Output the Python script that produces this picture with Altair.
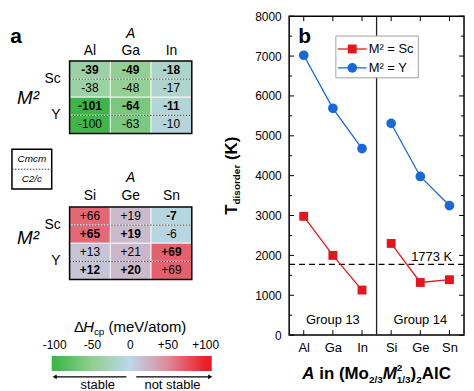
import json
import altair as alt
import pandas as pd

FONT = "Liberation Sans"
RED = "#e3161e"
BLUE = "#1a68d6"

# ---------------- panel (a) data ----------------
M2_names = ["Sc", "Y"]
structures = ["Cmcm", "C2/c"]
A_top = ["Al", "Ga", "In"]
top_cmcm = [[-39, -49, -18], [-101, -64, -11]]
top_c2c = [[-38, -48, -17], [-100, -63, -10]]
top_bold_cmcm = [[True, True, True], [True, True, True]]
top_bold_c2c = [[False, False, False], [False, False, False]]
A_bot = ["Si", "Ge", "Sn"]
bot_cmcm = [[66, 19, -7], [13, 21, 69]]
bot_c2c = [[65, 19, -6], [12, 20, 69]]
bot_bold_cmcm = [[False, False, True], [False, False, True]]
bot_bold_c2c = [[True, True, False], [True, True, False]]

cbar_values = [-100, -50, 0, 50, 100]
cbar_colors = ["#3fb54a", "#92cf90", "#bcd7ec", "#df8a99", "#ee1c25"]
cbar_extent = [-104, 108]
arrow_labels = ["stable", "not stable"]

# ---------------- panel (b) data ----------------
A_all = ["Al", "Ga", "In", "Si", "Ge", "Sn"]
A_group = ["Group 13", "Group 13", "Group 13", "Group 14", "Group 14", "Group 14"]
T_Sc = [2980, 2000, 1130, 2300, 1320, 1390]
T_Y = [7020, 5690, 4680, 5310, 3980, 3250]
T_processing = 1773
y_major = [0, 1000, 2000, 3000, 4000, 5000, 6000, 7000, 8000]
y_minor = [500, 1500, 2500, 3500, 4500, 5500, 6500, 7500]

# ---------------- helpers ----------------
ADV_REG = {" ": 278, "(": 333, ")": 333, "/": 278, "A": 667, "C": 722, "H": 722,
           "K": 667, "M": 833, "T": 611, "a": 556, "c": 500, "d": 556, "e": 556,
           "i": 222, "l": 222, "m": 833, "n": 556, "o": 556, "p": 556, "r": 333,
           "s": 500, "t": 278, "V": 667, "\u0394": 612}
ADV_BOLD = {" ": 278, "(": 333, ")": 333, "/": 278, "A": 722, "C": 722, "K": 722,
            "M": 833, "T": 611, "a": 556, "d": 611, "e": 556, "i": 278, "l": 278,
            "n": 611, "o": 611, "r": 389, "s": 556}


def adv(s, size, bold=False):
    tbl = ADV_BOLD if bold else ADV_REG
    return sum(tbl.get(ch, 556) for ch in s) * size / 1000.0


def piece(text, x, y, size, weight="normal", style="normal", angle=0, color="black"):
    return alt.Chart(pd.DataFrame({"t": [text]})).mark_text(
        fontSize=size, fontWeight=weight, fontStyle=style, align="left",
        baseline="alphabetic", angle=angle, color=color
    ).encode(x=alt.value(x), y=alt.value(y), text="t:N")


def lead_space(t, size, bold=False):
    """SVG drops leading blanks: return (stripped text, width of the dropped blanks)."""
    s = t.lstrip(" ")
    return s, adv(t[: len(t) - len(s)], size, bold)


def pos_scale(px0, px1, v0, v1, size, reverse=False):
    """Linear scale whose default range (0..size) puts v0 at px0 and v1 at px1."""
    k = (px1 - px0) / float(v1 - v0)
    d0 = v0 - px0 / k
    d1 = d0 + size / k
    if reverse:
        return alt.Scale(domain=[d0, d1], nice=False, zero=False, reverse=True)
    return alt.Scale(domain=[d0, d1], nice=False, zero=False)


heat_scale = alt.Scale(domain=cbar_values, range=cbar_colors, interpolate="rgb")
STRIP_W = 201


def heat_strip(A_names, cm, c2, b_cm, b_c2, height, top_px, col_y, title_y, m2_y, panel=None):
    rows = []
    for m, mn in enumerate(M2_names):
        for c, a in enumerate(A_names):
            for s, (vals, bol) in enumerate(((cm, b_cm), (c2, b_c2))):
                v = vals[m][c]
                rows.append({"M2": mn, "A": a, "structure": structures[s], "dH": v,
                             "label": ("+%d" % v) if v > 0 else ("%d" % v),
                             "bold": bol[m][c], "c0": c, "c1": c + 1, "cc": c + 0.5,
                             "r0": 2 * m + s, "r1": 2 * m + s + 1, "rc": 2 * m + s + 0.5})
    cells = pd.DataFrame(rows)
    ncol = len(A_names)
    nrow = 2 * len(M2_names)
    xs = pos_scale(58, 181, 0, ncol, STRIP_W)
    ys = pos_scale(top_px, top_px + 18.25 * nrow, 0, nrow, height, reverse=True)

    def X(f):
        return alt.X(f, scale=xs, axis=None)

    def Y(f):
        return alt.Y(f, scale=ys, axis=None)

    base = alt.Chart(cells)
    rect = base.mark_rect(stroke="white", strokeWidth=0.8).encode(
        x=X("c0:Q"), x2="c1:Q", y=Y("r0:Q"), y2="r1:Q",
        color=alt.Color("dH:Q", scale=heat_scale, legend=None))
    txt_b = base.transform_filter("datum.bold").mark_text(
        fontSize=12, fontWeight="bold", color="black").encode(
        x=X("cc:Q"), y=Y("rc:Q"), text="label:N")
    txt_n = base.transform_filter("!datum.bold").mark_text(
        fontSize=12, color="black").encode(
        x=X("cc:Q"), y=Y("rc:Q"), text="label:N")
    seps = pd.DataFrame({"r": [2 * m + 1 for m in range(len(M2_names))],
                         "c0": [0] * len(M2_names), "c1": [ncol] * len(M2_names)})
    dots = alt.Chart(seps).mark_rule(strokeDash=[1.5, 1.5], color="#333", strokeWidth=1).encode(
        x=X("c0:Q"), x2="c1:Q", y=Y("r:Q"))
    frame = alt.Chart(pd.DataFrame({"c0": [0], "c1": [ncol], "r0": [0], "r1": [nrow]})).mark_rect(
        fillOpacity=0, stroke="black", strokeWidth=1.5).encode(
        x=X("c0:Q"), x2="c1:Q", y=Y("r0:Q"), y2="r1:Q")
    cols = pd.DataFrame({"A": A_names, "cc": [c + 0.5 for c in range(ncol)], "r": [col_y] * ncol})
    col_txt = alt.Chart(cols).mark_text(fontSize=14, color="black").encode(
        x=X("cc:Q"), y=Y("r:Q"), text="A:N")
    a_title = alt.Chart(pd.DataFrame({"t": ["A"], "cc": [ncol / 2], "r": [title_y]})).mark_text(
        fontSize=14, fontStyle="italic", color="black").encode(x=X("cc:Q"), y=Y("r:Q"), text="t:N")
    rlab = pd.DataFrame({"M2": M2_names, "r": [2 * m + 1 for m in range(len(M2_names))],
                         "c": [-0.22] * len(M2_names)})
    row_txt = alt.Chart(rlab).mark_text(fontSize=14, align="right", color="black").encode(
        x=X("c:Q"), y=Y("r:Q"), text="M2:N")
    m2 = alt.Chart(pd.DataFrame({"t": ["M\u00b2"], "c": [-1.29], "r": [m2_y]})).mark_text(
        fontSize=19, fontStyle="italic", align="left", baseline="alphabetic", color="black").encode(
        x=X("c:Q"), y=Y("r:Q"), text="t:N")
    layers = [rect, dots, frame, txt_b, txt_n, col_txt, a_title, row_txt, m2]
    if panel is not None:
        layers.append(alt.Chart(pd.DataFrame({"t": [panel], "c": [-1.46], "r": [-1.0]})).mark_text(
            fontSize=21, fontWeight="bold", align="left", baseline="alphabetic", color="black").encode(
            x=X("c:Q"), y=Y("r:Q"), text="t:N"))
    return alt.layer(*layers).properties(width=STRIP_W, height=height)


strip1 = heat_strip(A_top, top_cmcm, top_c2c, top_bold_cmcm, top_bold_c2c, 117, 45,
                    -0.55, -1.5, 2.39, panel="a")

# structure key box
bx = pos_scale(0, 40, 0, 1, STRIP_W)
by = pos_scale(17, 57, 0, len(structures), 75, reverse=True)
box = alt.Chart(pd.DataFrame({"c0": [0], "c1": [1], "r0": [0], "r1": [len(structures)]})).mark_rect(
    fillOpacity=0, stroke="black", strokeWidth=1.5).encode(
    x=alt.X("c0:Q", scale=bx, axis=None), x2="c1:Q",
    y=alt.Y("r0:Q", scale=by, axis=None), y2="r1:Q")
box_dot = alt.Chart(pd.DataFrame({"c0": [0], "c1": [1], "r": [1]})).mark_rule(
    strokeDash=[1.5, 1.5], color="#333", strokeWidth=1).encode(
    x=alt.X("c0:Q", scale=bx, axis=None), x2="c1:Q", y=alt.Y("r:Q", scale=by, axis=None))
box_txt = alt.Chart(pd.DataFrame({"s": structures, "c": [0.5, 0.5], "r": [0.5, 1.5]})).mark_text(
    fontSize=10, fontStyle="italic", color="black").encode(
    x=alt.X("c:Q", scale=bx, axis=None), y=alt.Y("r:Q", scale=by, axis=None), text="s:N")
strip2 = alt.layer(box, box_dot, box_txt).properties(width=STRIP_W, height=75)

# strip height chosen so the colour bar and its captions stay inside the page
strip3 = heat_strip(A_bot, bot_cmcm, bot_c2c, bot_bold_cmcm, bot_bold_c2c, 150, 0,
                    -0.59, -1.57, 2.05)

# colour bar (vertical placement in pixels inside its strip)
cs = pos_scale(43, 195, -100, 100, STRIP_W)
CB_H = 15


def CX(f):
    return alt.X(f, scale=cs, axis=None)


span = cbar_extent[1] - cbar_extent[0]
grad = alt.LinearGradient(
    gradient="linear", x1=0, x2=1, y1=0, y2=0,
    stops=[alt.GradientStop(color=col, offset=(v - cbar_extent[0]) / span)
           for v, col in zip(cbar_values, cbar_colors)])
bar = alt.Chart(pd.DataFrame({"lo": [cbar_extent[0]], "hi": [cbar_extent[1]]})).mark_rect(
    fill=grad).encode(x=CX("lo:Q"), x2="hi:Q", y=alt.value(0), y2=alt.value(CB_H))
cticks = pd.DataFrame({"v": cbar_values,
                       "lab": [("+%d" % v) if v > 0 else ("%d" % v) for v in cbar_values]})
cb_labels = alt.Chart(cticks).mark_text(fontSize=12, color="black").encode(
    x=CX("v:Q"), y=alt.value(-11), text="lab:N")
arr = pd.DataFrame({"lab": arrow_labels, "x0": [-100, 8], "x1": [-5, 106], "tip": [-100, 106],
                    "shape": ["triangle-left", "triangle-right"], "xc": [-43, 56]})
arr_rule = alt.Chart(arr).mark_rule(color="black", strokeWidth=1.2).encode(
    x=CX("x0:Q"), x2="x1:Q", y=alt.value(CB_H + 6))
arr_head = alt.Chart(arr).mark_point(filled=True, size=22, color="black", opacity=1).encode(
    x=CX("tip:Q"), y=alt.value(CB_H + 6), shape=alt.Shape("shape:N", scale=None))
arr_txt = alt.Chart(arr).mark_text(fontSize=13, color="black").encode(
    x=CX("xc:Q"), y=alt.value(CB_H + 14), text="lab:N")
cb_pieces_spec = [("\u0394", 15, "normal", "normal", 0), ("H", 15, "normal", "italic", 0),
                  ("cp", 10, "normal", "normal", 3), (" (meV/atom)", 15, "normal", "normal", 0)]
cb_total = sum(adv(t, s) for t, s, _, _, _ in cb_pieces_spec)
cx = 119 - cb_total / 2
cb_pieces = []
for t, s, w, st, dy in cb_pieces_spec:
    txt, lead = lead_space(t, s)
    cb_pieces.append(piece(txt, cx + lead, -24 + dy, s, w, st))
    cx += adv(t, s)
strip4 = alt.layer(bar, cb_labels, arr_rule, arr_head, arr_txt, *cb_pieces).properties(
    width=STRIP_W, height=CB_H)

left = alt.vconcat(strip1, strip2, strip3, strip4, spacing=0, bounds="flush")

# ---------------- panel (b) ----------------
pos = list(range(1, len(A_all) + 1))
long = pd.DataFrame({"A": A_all * 2, "pos": pos * 2, "group": A_group * 2,
                     "series": ["Sc"] * len(A_all) + ["Y"] * len(A_all), "T": T_Sc + T_Y})
W_B, H_B = 176, 321
xs_b = alt.Scale(domain=[0.5, len(A_all) + 0.5], nice=False, zero=False)
ys_b = alt.Scale(domain=[0, 8000], nice=False, zero=True)
x_axis = alt.Axis(values=pos, labelExpr="%s[datum.value - 1]" % json.dumps(A_all),
                  ticks=False, domain=False, grid=False, title=None, labelFontSize=13,
                  labelPadding=6, labelColor="black")
y_axis = alt.Axis(values=y_major, format="d", ticks=False, domain=False, grid=False, title=None,
                  labelFontSize=12, labelPadding=8, labelColor="black")


def XB(f):
    return alt.X(f, scale=xs_b, axis=x_axis)


def YB(f):
    return alt.Y(f, scale=ys_b, axis=y_axis)


base_b = alt.Chart(long)
sep_x = (pos[A_group.index("Group 14") - 1] + pos[A_group.index("Group 14")]) / 2
sep = alt.Chart(pd.DataFrame({"x": [sep_x]})).mark_rule(color="#222", strokeWidth=1.3).encode(x=XB("x:Q"))
dash = alt.Chart(pd.DataFrame({"y": [T_processing]})).mark_rule(
    color="black", strokeWidth=1.3, strokeDash=[6, 4]).encode(y=YB("y:Q"))
layers_b = [sep, dash]
SERIES_STYLE = (("Sc", RED, "square", 80), ("Y", BLUE, "circle", 95))
for ser, col, shp, sz in SERIES_STYLE:
    sub = base_b.transform_filter("datum.series == '%s'" % ser)
    layers_b.append(sub.mark_line(color=col, strokeWidth=1.3).encode(
        x=XB("pos:Q"), y=YB("T:Q"), detail="group:N"))
    layers_b.append(sub.mark_point(shape=shp, filled=True, color=col, size=sz, opacity=1).encode(
        x=XB("pos:Q"), y=YB("T:Q")))

grp = pd.DataFrame({"group": ["Group 13", "Group 14"]})
grp["x"] = [sum(p for p, g in zip(pos, A_group) if g == gg) / A_group.count(gg) for gg in grp["group"]]
grp["y"] = 380
layers_b.append(alt.Chart(grp).mark_text(fontSize=13, color="black").encode(
    x=XB("x:Q"), y=YB("y:Q"), text="group:N"))
layers_b.append(alt.Chart(pd.DataFrame({"t": ["%d K" % T_processing], "x": [6.09], "y": [1970]})).mark_text(
    fontSize=13, align="right", color="black").encode(x=XB("x:Q"), y=YB("y:Q"), text="t:N"))
layers_b.append(alt.Chart(pd.DataFrame({"t": ["b"], "x": [0.81], "y": [7330]})).mark_text(
    fontSize=21, fontWeight="bold", align="left", baseline="alphabetic", color="black").encode(
    x=XB("x:Q"), y=YB("y:Q"), text="t:N"))

# inward ticks
tmaj = alt.Chart(pd.DataFrame({"v": y_major}))
tmin = alt.Chart(pd.DataFrame({"v": y_minor}))
tx = alt.Chart(pd.DataFrame({"v": pos}))
layers_b += [
    tmaj.mark_rule(color="black", strokeWidth=1).encode(y=YB("v:Q"), x=alt.value(0), x2=alt.value(5)),
    tmin.mark_rule(color="black", strokeWidth=1).encode(y=YB("v:Q"), x=alt.value(0), x2=alt.value(3)),
    tmaj.mark_rule(color="black", strokeWidth=1).encode(y=YB("v:Q"), x=alt.value(W_B), x2=alt.value(W_B - 5)),
    tmin.mark_rule(color="black", strokeWidth=1).encode(y=YB("v:Q"), x=alt.value(W_B), x2=alt.value(W_B - 3)),
    tx.mark_rule(color="black", strokeWidth=1).encode(x=XB("v:Q"), y=alt.value(H_B), y2=alt.value(H_B - 5)),
    tx.mark_rule(color="black", strokeWidth=1).encode(x=XB("v:Q"), y=alt.value(0), y2=alt.value(5)),
]

# legend box (line + marker keys)
LEG_X, LEG_Y, LEG_W, LEG_H, LEG_ROW = 47, 20, 83, 42, 19
layers_b.append(alt.Chart(pd.DataFrame({"k": [0]})).mark_rect(
    fill="white", stroke="#a0a0a0", strokeWidth=1).encode(
    x=alt.value(LEG_X), x2=alt.value(LEG_X + LEG_W), y=alt.value(LEG_Y), y2=alt.value(LEG_Y + LEG_H)))
for i, (ser, col, shp, sz) in enumerate(SERIES_STYLE):
    yy = LEG_Y + 13 + LEG_ROW * i
    kd = pd.DataFrame({"t": ["M\u00b2 = " + ser]})
    layers_b.append(alt.Chart(kd).mark_rule(color=col, strokeWidth=1.3).encode(
        x=alt.value(LEG_X + 2), x2=alt.value(LEG_X + 31), y=alt.value(yy)))
    layers_b.append(alt.Chart(kd).mark_point(shape=shp, filled=True, color=col, size=sz, opacity=1).encode(
        x=alt.value(LEG_X + 16.5), y=alt.value(yy)))
    layers_b.append(alt.Chart(kd).mark_text(fontSize=13, align="left", color="black").encode(
        x=alt.value(LEG_X + 33), y=alt.value(yy), text="t:N"))

# composed axis titles
xt_spec = [("A", 17, True, True, 0, True), (" in (Mo", 17, True, False, 0, True),
           ("2/3", 10, True, False, 4, True), ("M", 17, True, True, 0, True),
           ("2", 10, True, False, -8, False), ("1/3", 10, True, False, 4, True),
           (")", 17, True, False, 0, True), ("2", 10, True, False, 4, True),
           ("AlC", 17, True, False, 0, True)]
xt_total = sum(adv(t, s, b) for t, s, b, it, dy, a in xt_spec if a)
cx = W_B / 2 - xt_total / 2
for t, s, b, it, dy, a in xt_spec:
    txt, lead = lead_space(t, s, b)
    layers_b.append(piece(txt, cx + lead, 365 + dy, s, "bold" if b else "normal",
                          "italic" if it else "normal"))
    if a:
        cx += adv(t, s, b)

yt_spec = [("T", 17, 0), ("disorder", 10, 4), (" (K)", 17, 0)]
yt_total = sum(adv(t, s, True) for t, s, dy in yt_spec)
cy_t = H_B / 2 + yt_total / 2
for t, s, dy in yt_spec:
    txt, lead = lead_space(t, s, True)
    layers_b.append(piece(txt, -53 + dy, cy_t - lead, s, "bold", "normal", angle=270))
    cy_t -= adv(t, s, True)

right = alt.layer(*layers_b).properties(
    width=W_B, height=H_B, view=alt.ViewBackground(stroke="black", strokeWidth=1.5))

# with flush bounds the nested left column counts as zero width, so the
# spacing carries the strip width plus the gap
chart = alt.hconcat(left, right, spacing=STRIP_W + 78, bounds="flush").properties(
    padding={"left": 2, "top": 0, "right": 0, "bottom": 0}
).configure(font=FONT).configure_view(strokeWidth=0).configure_axis(labelFont=FONT)

chart.save("out.html", embed_options={"renderer": "svg", "actions": False})
